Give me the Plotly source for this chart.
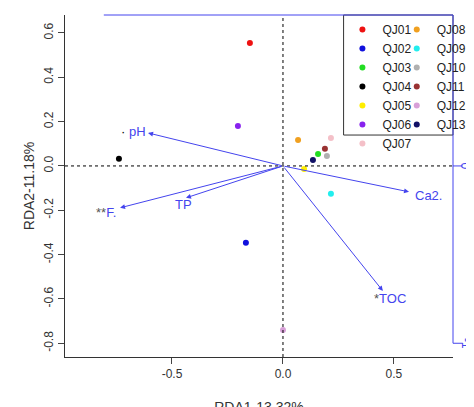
import plotly.graph_objects as go

sites = ['QJ01', 'QJ02', 'QJ03', 'QJ04', 'QJ05', 'QJ06', 'QJ07',
         'QJ08', 'QJ09', 'QJ10', 'QJ11', 'QJ12', 'QJ13']
site_x = [-0.149, -0.167, 0.158, -0.739, 0.095, -0.203, 0.216,
          0.068, 0.216, 0.198, 0.189, 0.0, 0.135]
site_y = [0.555, -0.347, 0.054, 0.032, -0.014, 0.180, 0.126,
          0.117, -0.126, 0.045, 0.077, -0.74, 0.027]
site_col = ['#ee1111', '#1111dd', '#22dd22', '#000000', '#ffee00', '#8822ee', '#f4c0c8',
            '#f0a020', '#22eeee', '#b0b0b0', '#993333', '#d8a0d8', '#111166']

env = ['pH', 'TP', 'F.', 'Ca2.', 'TOC']
env_x = [-0.608, -0.437, -0.734, 0.568, 0.450]
env_y = [0.149, -0.144, -0.189, -0.117, -0.564]

blue = '#4444ee'
fig = go.Figure()

for i, s in enumerate(sites):
    fig.add_trace(go.Scatter(x=[site_x[i]], y=[site_y[i]], mode='markers', name=s,
                             legend='legend' if i < 7 else 'legend2',
                             marker=dict(color=site_col[i], size=6)))

for i, e in enumerate(env):
    fig.add_annotation(x=env_x[i], y=env_y[i], ax=0, ay=0, xref='x', yref='y', axref='x', ayref='y',
                       showarrow=True, arrowhead=2, arrowsize=1, arrowwidth=1, arrowcolor=blue, text='')

# labels
fig.add_annotation(x=-0.608, y=0.155, text='<span style="color:black">·</span> pH', showarrow=False,
                   xanchor='right', font=dict(color=blue, size=13))
fig.add_annotation(x=-0.45, y=-0.175, text='TP', showarrow=False, font=dict(color=blue, size=13))
fig.add_annotation(x=-0.745, y=-0.21, text='<span style="color:#555">**</span>F.', showarrow=False,
                   xanchor='right', font=dict(color=blue, size=13))
fig.add_annotation(x=0.585, y=-0.135, text='Ca2.', showarrow=False, xanchor='left',
                   font=dict(color=blue, size=13))
fig.add_annotation(x=0.48, y=-0.6, text='<span style="color:#555">*</span>TOC', showarrow=False,
                   font=dict(color=blue, size=13))

# dotted zero lines
fig.add_shape(type='line', x0=0, x1=0, y0=0, y1=1, xref='x', yref='paper',
              line=dict(color='black', width=1, dash='dot'))
fig.add_shape(type='line', x0=0, x1=1, y0=0, y1=0, xref='paper', yref='y',
              line=dict(color='black', width=1, dash='dot'))

# blue secondary axes
fig.add_shape(type='line', x0=0.1, x1=1, y0=1, y1=1, xref='paper', yref='paper',
              line=dict(color=blue, width=1))
fig.add_shape(type='line', x0=1, x1=1, y0=-0.8, y1=0.681, xref='paper', yref='y',
              line=dict(color=blue, width=1))
for yv in [0, -0.8]:
    fig.add_shape(type='line', x0=1, x1=1.025, y0=yv, y1=yv, xref='paper', yref='y',
                  line=dict(color=blue, width=1))
fig.add_annotation(x=1.055, y=0, xref='paper', yref='y', text='0', showarrow=False,
                   textangle=90, font=dict(color=blue, size=12))
fig.add_annotation(x=1.055, y=-0.8, xref='paper', yref='y', text='-1', showarrow=False,
                   textangle=90, font=dict(color=blue, size=12))

# legend box
fig.add_shape(type='rect', x0=0.718, x1=1, y0=0.649, y1=1, xref='paper', yref='paper',
              line=dict(color='#333', width=1), fillcolor='white', layer='below')

fig.update_xaxes(range=[-0.982, 0.766], tickvals=[-0.5, 0, 0.5], ticktext=['-0.5', '0.0', '0.5'],
                 showgrid=False, zeroline=False, showline=True, linecolor='#333', automargin=False,
                 ticks='outside', ticklen=6, title=dict(text='RDA1-13.32%', standoff=22))
fig.update_yaxes(range=[-0.862, 0.681], tickvals=[-0.8, -0.6, -0.4, -0.2, 0, 0.2, 0.4, 0.6],
                 ticktext=['-0.8', '-0.6', '-0.4', '-0.2', '0.0', '0.2', '0.4', '0.6'],
                 tickangle=-90, showgrid=False, zeroline=False, showline=True, linecolor='#333',
                 automargin=False,
                 ticks='outside', ticklen=6, title=dict(text='RDA2-11.18%', standoff=4))

leg = dict(xanchor='left', yanchor='top', bgcolor='rgba(0,0,0,0)', borderwidth=0,
           font=dict(size=12, color='#222'), tracegroupgap=0, itemwidth=30)
fig.update_layout(width=474, height=407, plot_bgcolor='white', paper_bgcolor='white',
                  margin=dict(l=57, r=29, t=7, b=58),
                  font=dict(family='Liberation Sans, Arial', size=12, color='#333'),
                  legend=dict(x=0.715, y=1.0, **leg),
                  legend2=dict(x=0.855, y=1.0, **leg),
                  showlegend=True)

fig.write_html('out.html')
